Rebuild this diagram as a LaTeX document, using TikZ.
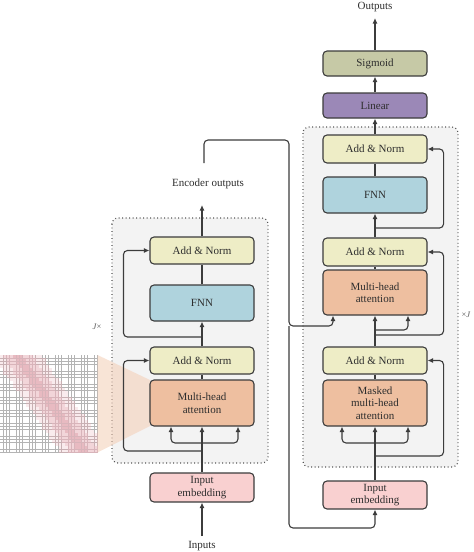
\documentclass[tikz,border=0pt]{standalone}
\usepackage{fontspec}
\setmainfont{Liberation Serif}
\usetikzlibrary{arrows.meta,calc}
\definecolor{bord}{HTML}{3C3C3C}
\definecolor{txt}{HTML}{2E2E2E}
\definecolor{anfill}{HTML}{EEEDC6}
\definecolor{fnnfill}{HTML}{AFD3DD}
\definecolor{mhafill}{HTML}{EEBFA0}
\definecolor{embfill}{HTML}{F9D0D0}
\definecolor{sigfill}{HTML}{C6C9A6}
\definecolor{linfill}{HTML}{9B88B7}
\definecolor{grpfill}{HTML}{F3F3F3}
\definecolor{dotc}{HTML}{555555}
\definecolor{gridc}{HTML}{B4B4B4}
\definecolor{gridpink}{HTML}{D8B4BA}
\definecolor{gridpinkl}{HTML}{C8B0B3}
\definecolor{cellz}{HTML}{FFFFFF}
\definecolor{cellv}{HTML}{F9EBED}
\definecolor{cello}{HTML}{F2D5D9}
\definecolor{cellt}{HTML}{E8BAC1}
\definecolor{trapc}{HTML}{F3CDB5}
\newcommand{\fs}{\fontsize{11}{12.5}\selectfont}
\begin{document}
\begin{tikzpicture}[x=1pt,y=-1pt,
  box/.style={draw=bord, line width=1.1pt, rounded corners=4pt, minimum width=104pt,
    align=center, text=txt, font=\fs, inner sep=0pt},
  arr/.style={-{Latex[length=5.5pt,width=5pt]}, line width=1.1pt, draw=bord},
  ln/.style={line width=1.1pt, draw=bord},
  rc/.style={rounded corners=4pt},
  grp/.style={draw=dotc, line width=1.2pt, dash pattern=on 0.9pt off 2.6pt,
    fill=grpfill, rounded corners=6pt},
  lbl/.style={text=txt, font=\fs, inner sep=0pt},
  rep/.style={text=dotc, font=\fontsize{8.5}{9}\selectfont, inner sep=0pt}]
\useasboundingbox (0,0) rectangle (474,552);

% groups
\draw[grp] (112,218) rectangle (268,463);
\draw[grp] (303,127) rectangle (458,467);

% attention matrix
\fill[gridc] (0,355) rectangle (97.5,452.5);
\foreach \r in {0,...,29}{
  \foreach \c in {0,...,29}{
    \pgfmathsetmacro{\dd}{abs(\c-0.7*\r-5)}
    \pgfmathtruncatemacro{\k}{\dd<1.6 ? 3 : (\dd<4.5 ? 2 : (\dd<7.5 ? 1 : 0))}
    \ifnum\k>1 \fill[gridpink] (\c*3.25,355+\r*3.25) rectangle ++(3.25,3.25);\fi
    \ifnum\k=1 \fill[gridpinkl] (\c*3.25,355+\r*3.25) rectangle ++(3.25,3.25);\fi
    \fill[fill=\ifcase\k cellz\or cellv\or cello\or cellt\fi] (\c*3.25+0.4,355+\r*3.25+0.4) rectangle ++(2.45,2.45);
  }
}
\fill[trapc, opacity=0.55] (97.5,355) -- (150,380) -- (150,426) -- (97.5,452.5) -- cycle;

% encoder nodes
\node[box, fill=anfill,  minimum height=27pt] (eAN2) at (202,250.5) {Add \& Norm};
\node[box, fill=fnnfill, minimum height=36pt] (eFNN) at (202,303) {FNN};
\node[box, fill=anfill,  minimum height=27pt] (eAN1) at (202,360.5) {Add \& Norm};
\node[box, fill=mhafill, minimum height=46pt] (eMHA) at (202,403) {Multi-head\\attention};
\node[box, fill=embfill, minimum height=29pt] (eEmb) at (202,487.5) {Input\\embedding};
\node[lbl] (inputs) at (202,546) {Inputs};
\node[lbl] (eout) at (208,184) {Encoder outputs};
\node[rep] (jl) at (97,327) {\textit{J}×};

% decoder nodes
\node[box, fill=sigfill, minimum height=25pt] (sig) at (375,63.5) {Sigmoid};
\node[box, fill=linfill, minimum height=25pt] (lin) at (375,105.5) {Linear};
\node[box, fill=anfill,  minimum height=28pt] (dAN3) at (375,149) {Add \& Norm};
\node[box, fill=fnnfill, minimum height=36pt] (dFNN) at (375,195) {FNN};
\node[box, fill=anfill,  minimum height=28pt] (dAN2) at (375,252) {Add \& Norm};
\node[box, fill=mhafill, minimum height=45pt] (dMHA) at (375,292.5) {Multi-head\\attention};
\node[box, fill=anfill,  minimum height=27pt] (dAN1) at (375,360.5) {Add \& Norm};
\node[box, fill=mhafill, minimum height=46pt] (dMMHA) at (375,403) {Masked\\multi-head\\attention};
\node[box, fill=embfill, minimum height=28pt] (dEmb) at (375,495) {Input\\embedding};
\node[lbl] (outputs) at (375,7) {Outputs};
\node[rep] (jr) at (466,315) {×\textit{J}};

% coordinates
\coordinate (inSrc) at (202,536);
\coordinate (eOutTip) at (202,205);
\coordinate (eSplit) at (202,443);
\coordinate (eRes1) at (202,451);
\coordinate (eRes2) at (202,337);
\coordinate (encSrc) at (204,163);
\coordinate (junc) at (289,326);
\coordinate (dSplit) at (375,443);
\coordinate (dRes1) at (375,456);
\coordinate (dRes2) at (375,335);
\coordinate (dQ) at (375,330);
\coordinate (dRes3) at (375,228);
\coordinate (outTip) at (375,18);

% encoder connectors
\draw[arr] (inSrc) -- (eEmb.south);
\draw[arr] (eEmb.north) -- (eMHA.south);
\draw[arr,rc] (eSplit) -| ([xshift=-31pt]eMHA.south);
\draw[arr,rc] (eSplit) -| ([xshift=36pt]eMHA.south);
\draw[arr,rc] (eRes1) -| ([xshift=-26pt]eAN1.west) -- (eAN1.west);
\draw[ln] (eMHA.north) -- (eAN1.south);
\draw[arr] (eAN1.north) -- (eFNN.south);
\draw[arr,rc] (eRes2) -| ([xshift=-26pt]eAN2.west) -- (eAN2.west);
\draw[ln] (eFNN.north) -- (eAN2.south);
\draw[arr] (eAN2.north) -- (eOutTip);

% encoder to decoder
\draw[arr,rc] (encSrc) -- (204,140) -- (289,140) -- (junc) -- (333,326) -- ([xshift=-42pt]dMHA.south);
\draw[arr,rc] (junc) -- (289,528) -- (375,528) -- (dEmb.south);

% decoder connectors
\draw[arr] (dEmb.north) -- (dMMHA.south);
\draw[arr,rc] (dSplit) -| ([xshift=-33pt]dMMHA.south);
\draw[arr,rc] (dSplit) -| ([xshift=33pt]dMMHA.south);
\draw[arr,rc] (dRes1) -| ([xshift=16pt]dAN1.east) -- (dAN1.east);
\draw[ln] (dMMHA.north) -- (dAN1.south);
\draw[arr] (dAN1.north) -- (dMHA.south);
\draw[arr,rc] (dQ) -| ([xshift=33pt]dMHA.south);
\draw[arr,rc] (dRes2) -| ([xshift=16pt]dAN2.east) -- (dAN2.east);
\draw[ln] (dMHA.north) -- (dAN2.south);
\draw[arr] (dAN2.north) -- (dFNN.south);
\draw[arr,rc] (dRes3) -| ([xshift=16pt]dAN3.east) -- (dAN3.east);
\draw[ln] (dFNN.north) -- (dAN3.south);
\draw[arr] (dAN3.north) -- (lin.south);
\draw[arr] (lin.north) -- (sig.south);
\draw[arr] (sig.north) -- (outTip);
\end{tikzpicture}
\end{document}
